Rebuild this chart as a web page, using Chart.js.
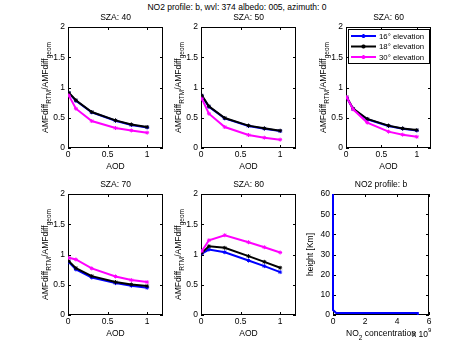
<!DOCTYPE html>
<html><head><meta charset="utf-8">
<script src="https://cdn.jsdelivr.net/npm/chart.js@4/dist/chart.umd.min.js"></script>
<style>
html,body{margin:0;padding:0;background:#fff;}
#wrap{position:relative;width:474px;height:355px;overflow:hidden;background:#fff;}
canvas{position:absolute;}
#title{position:absolute;left:0;width:474px;top:2px;text-align:center;font:8.5px 'Liberation Sans',Arial,sans-serif;line-height:10px;color:#000;}
</style>
</head><body>
<div id="wrap"><div id="title">NO2 profile: b, wvl: 374 albedo: 005, azimuth: 0</div></div>
<script>
// ---- data ----
const aod = [0.01, 0.1, 0.3, 0.6, 0.8, 1.0];
const seriesNames = ['16° elevation', '18° elevation', '30° elevation'];
const sza40_16 = [0.91, 0.78, 0.59, 0.45, 0.38, 0.34];
const sza40_18 = [0.915, 0.79, 0.595, 0.457, 0.39, 0.347];
const sza40_30 = [0.87, 0.65, 0.446, 0.33, 0.29, 0.253];
const sza50_16 = [0.86, 0.68, 0.49, 0.365, 0.32, 0.28];
const sza50_18 = [0.87, 0.69, 0.496, 0.37, 0.325, 0.286];
const sza50_30 = [0.815, 0.567, 0.347, 0.215, 0.17, 0.138];
const sza60_16 = [0.835, 0.645, 0.475, 0.365, 0.32, 0.29];
const sza60_18 = [0.84, 0.65, 0.48, 0.37, 0.324, 0.296];
const sza60_30 = [0.84, 0.64, 0.42, 0.27, 0.22, 0.185];
const sza70_16 = [0.874, 0.753, 0.62, 0.527, 0.484, 0.45];
const sza70_18 = [0.89, 0.775, 0.643, 0.544, 0.505, 0.478];
const sza70_30 = [0.945, 0.918, 0.77, 0.637, 0.577, 0.544];
const sza80_16 = [1.016, 1.082, 1.038, 0.90, 0.808, 0.709];
const sza80_18 = [1.027, 1.137, 1.11, 0.973, 0.879, 0.78];
const sza80_30 = [1.055, 1.236, 1.319, 1.203, 1.12, 1.033];
const no2Conc = [0, 0, 0.2, 5.3, 5.3];      // x 10^9
const no2Height = [60, 2.5, 1.0, 1.0, 0];   // km
const aodTicks = [0, 0.5, 1];
const amfTicks = [0, 0.5, 1, 1.5, 2];
const concTicks = [0, 2, 4, 6];
const heightTicks = [0, 10, 20, 30, 40, 50, 60];

// ---- setup ----
const FONT = "'Liberation Sans', Arial, sans-serif";
Chart.defaults.font.family = FONT;
Chart.defaults.font.size = 8.5;
Chart.defaults.color = '#000';
const wrap = document.getElementById('wrap');
const L = 40, T = 27, R = 10, B = 26;
const colors = ['#0000ff', '#000000', '#ff00ff'];

function measureParts(ctx, parts, size, subSize) {
  let total = 0;
  parts.forEach(p => { ctx.font = (p.s ? subSize : size) + 'px ' + FONT; p.w = ctx.measureText(p.t).width; total += p.w; });
  return total;
}
function renderParts(ctx, parts, x, y, size, subSize) {
  let cx = x;
  parts.forEach(p => {
    ctx.font = (p.s ? subSize : size) + 'px ' + FONT;
    ctx.fillText(p.t, cx, y + (p.s === 1 ? 3.5 : 0));
    cx += p.w;
  });
}

function makeChart(box, datasets, xs, ys, extra) {
  const c = document.createElement('canvas');
  const w = L + (box[2] - box[0]) + R, h = T + (box[3] - box[1]) + B;
  c.width = w; c.height = h;
  c.style.left = (box[0] - L) + 'px'; c.style.top = (box[1] - T) + 'px';
  c.style.width = w + 'px'; c.style.height = h + 'px';
  wrap.appendChild(c);
  const frame = {
    id: 'frame',
    beforeDatasetsDraw(chart) {
      const ctx = chart.ctx, a = chart.chartArea;
      ctx.save();
      ctx.strokeStyle = '#000'; ctx.lineWidth = 1;
      ctx.strokeRect(a.left + 0.5, a.top + 0.5, a.right - a.left - 1, a.bottom - a.top - 1);
      ctx.beginPath();
      const tl = 3;
      chart.scales.x.ticks.forEach(t => {
        const p = Math.round(chart.scales.x.getPixelForValue(t.value)) + 0.5;
        ctx.moveTo(p, a.bottom); ctx.lineTo(p, a.bottom - tl);
        ctx.moveTo(p, a.top); ctx.lineTo(p, a.top + tl);
      });
      chart.scales.y.ticks.forEach(t => {
        const p = Math.round(chart.scales.y.getPixelForValue(t.value)) + 0.5;
        ctx.moveTo(a.left, p); ctx.lineTo(a.left + tl, p);
        ctx.moveTo(a.right, p); ctx.lineTo(a.right - tl, p);
      });
      ctx.stroke();
      ctx.restore();
    },
    afterDraw(chart) {
      const ctx = chart.ctx, a = chart.chartArea;
      const cx = (a.left + a.right) / 2, cy = (a.top + a.bottom) / 2;
      ctx.save();
      ctx.fillStyle = '#000';
      ctx.textBaseline = 'middle'; ctx.textAlign = 'center';
      ctx.font = '8.5px ' + FONT;
      ctx.fillText(extra.title, cx, a.top - 9);
      ctx.textAlign = 'left'; ctx.textBaseline = 'alphabetic';
      const xw = measureParts(ctx, extra.xTitle, 8.5, 6.5);
      renderParts(ctx, extra.xTitle, cx - xw / 2, a.bottom + 21, 8.5, 6.5);
      ctx.save();
      ctx.translate(a.left - 20.5, cy);
      ctx.rotate(-Math.PI / 2);
      const yw = measureParts(ctx, extra.yTitle, 8.5, 6.5);
      renderParts(ctx, extra.yTitle, -yw / 2, 0, 8.5, 6.5);
      ctx.restore();
      if (extra.exponent) {
        ctx.font = '8.5px ' + FONT;
        ctx.fillText('x 10', a.right - 17, a.bottom + 22);
        ctx.font = '6px ' + FONT;
        ctx.fillText('9', a.right - 1, a.bottom + 17);
      }
      if (extra.legend) {
        const lx = a.left + 2, ly = a.top + 2, lw = a.right - 1 - lx, lh = 35;
        ctx.fillStyle = '#fff';
        ctx.fillRect(lx, ly, lw, lh);
        ctx.strokeStyle = '#000'; ctx.lineWidth = 1;
        ctx.strokeRect(lx + 0.5, ly + 0.5, lw - 1, lh - 1);
        chart.data.datasets.forEach((ds, i) => {
          const ry = ly + 7 + i * 10.5;
          ctx.strokeStyle = ds.borderColor; ctx.lineWidth = 2;
          ctx.beginPath(); ctx.moveTo(lx + 3, ry); ctx.lineTo(lx + 28, ry); ctx.stroke();
          ctx.fillStyle = ds.borderColor;
          Chart.helpers.drawPoint(ctx, {pointStyle: 'star', radius: 2, borderWidth: 1, rotation: 0}, lx + 15.5, ry);
          ctx.fillStyle = '#000'; ctx.font = '7.8px ' + FONT;
          ctx.textBaseline = 'middle'; ctx.textAlign = 'left';
          ctx.fillText(ds.label, lx + 31, ry + 0.5);
        });
      }
      ctx.restore();
    }
  };
  return new Chart(c, {
    type: 'line',
    data: { datasets },
    options: {
      responsive: false, animation: false, devicePixelRatio: 1,
      layout: { padding: { left: 0, right: R, top: T, bottom: 0 } },
      plugins: { legend: { display: false }, tooltip: { enabled: false }, title: { display: false } },
      scales: {
        x: {
          type: 'linear', min: xs.min, max: xs.max,
          grid: { display: false, drawTicks: false }, border: { display: false },
          ticks: { padding: 2, font: { size: 8.5 }, color: '#000', maxRotation: 0, callback: v => String(v) },
          afterBuildTicks: s => { s.ticks = xs.ticks.map(v => ({ value: v })); },
          afterFit: s => { s.height = B; }
        },
        y: {
          type: 'linear', min: ys.min, max: ys.max,
          grid: { display: false, drawTicks: false }, border: { display: false },
          ticks: { padding: 3, font: { size: 8.5 }, color: '#000', callback: v => String(v) },
          afterBuildTicks: s => { s.ticks = ys.ticks.map(v => ({ value: v })); },
          afterFit: s => { s.width = L; }
        }
      }
    },
    plugins: [frame]
  });
}

function aodSets(a, b, c) {
  return [a, b, c].map((vals, i) => ({
    label: seriesNames[i],
    data: aod.map((x, k) => ({ x, y: vals[k] })),
    borderColor: colors[i], backgroundColor: colors[i],
    borderWidth: 2, pointStyle: 'star', pointRadius: 2, pointBorderWidth: 1,
    order: 2 - i, tension: 0
  }));
}
const yTitle = [{t: 'AMFdiff'}, {t: 'RTM', s: 1}, {t: '/AMFdiff'}, {t: 'geom', s: 1}];
const xTitle = [{t: 'AOD'}];
const xs = { min: 0, max: 1.2, ticks: aodTicks };
const ys = { min: 0, max: 2, ticks: amfTicks };

makeChart([68, 27, 163, 148], aodSets(sza40_16, sza40_18, sza40_30), xs, ys, { title: 'SZA: 40', xTitle, yTitle });
makeChart([201, 27, 296, 148], aodSets(sza50_16, sza50_18, sza50_30), xs, ys, { title: 'SZA: 50', xTitle, yTitle });
makeChart([346, 27, 431, 148], aodSets(sza60_16, sza60_18, sza60_30), xs, ys, { title: 'SZA: 60', xTitle, yTitle, legend: true });
makeChart([68, 194, 163, 315], aodSets(sza70_16, sza70_18, sza70_30), xs, ys, { title: 'SZA: 70', xTitle, yTitle });
makeChart([201, 194, 296, 315], aodSets(sza80_16, sza80_18, sza80_30), xs, ys, { title: 'SZA: 80', xTitle, yTitle });
makeChart([333, 194, 429, 315], [{
  label: 'NO2 profile',
  data: no2Conc.map((x, k) => ({ x, y: no2Height[k] })),
  borderColor: '#0000ff', backgroundColor: '#0000ff', borderWidth: 2, pointRadius: 0, tension: 0,
  clip: 4
}], { min: 0, max: 6, ticks: concTicks }, { min: 0, max: 60, ticks: heightTicks },
{ title: 'NO2 profile: b', xTitle: [{t: 'NO'}, {t: '2', s: 1}, {t: ' concentration'}], yTitle: [{t: 'height [Km]'}], exponent: true });
</script>
</body></html>
